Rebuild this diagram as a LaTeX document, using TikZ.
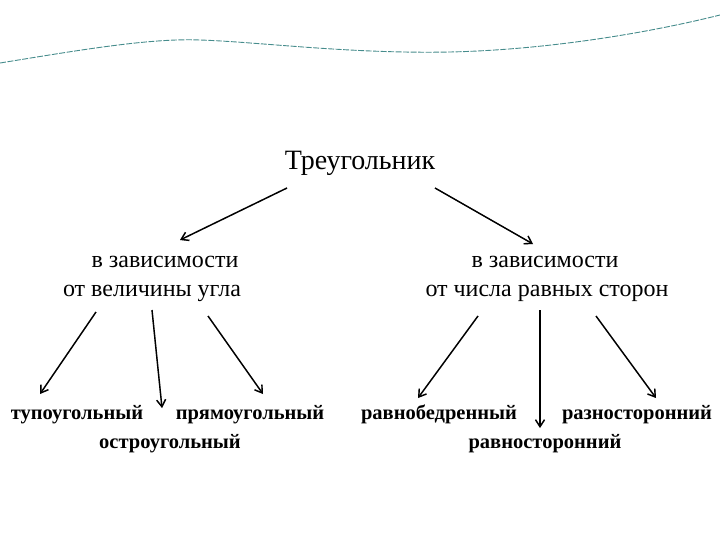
\documentclass[tikz,border=0pt]{standalone}
\usepackage{fontspec}
\setmainfont{Liberation Serif}
\usetikzlibrary{arrows.meta}
\definecolor{wave}{RGB}{70,140,140}
\tikzset{
  plain/.style={font=\fontsize{24}{28}\selectfont},
  kind/.style={font=\bfseries\fontsize{20.5}{24}\selectfont,anchor=base},
  link/.style={line width=1.4pt,-{Straight Barb[length=7pt,width=9pt]}},
  shade/.style={gray!55,line width=1.4pt,-{Straight Barb[length=7pt,width=9pt]},shift={(1.5,1.5)}}
}
\newcommand{\arr}[2]{\draw[shade] (#1) -- (#2); \draw[link] (#1) -- (#2);}
\begin{document}
\begin{tikzpicture}[x=1pt,y=-1pt]
\useasboundingbox (0,0) rectangle (720,540);
% decorative wave
\draw[wave,line width=0.9pt,dash pattern=on 6pt off 1.5pt] (0,63) .. controls (80,50) and (150,38) .. (200,40) .. controls (260,42) and (350,54) .. (450,52) .. controls (540,50) and (640,35) .. (720,15);

% Text Node
\node (top) at (360,163) {\fontsize{28}{32}\selectfont Треугольник};
\node[plain] (la) at (165,262) {в зависимости};
\node[plain] (lb) at (152,293) {от величины угла};
\node[plain] (ra) at (545,262) {в зависимости};
\node[plain] (rb) at (547,293) {от числа равных сторон};
\node[kind] (k1) at (77,419) {тупоугольный};
\node[kind] (k2) at (250,419) {прямоугольный};
\node[kind] (k3) at (170,448) {остроугольный};
\node[kind] (k4) at (439,419) {равнобедренный};
\node[kind] (k5) at (637,419) {разносторонний};
\node[kind] (k6) at (545,448) {равносторонний};

% arrow ends
\coordinate (t1) at (287,188); \coordinate (t1e) at (180,240);
\coordinate (t2) at (435,188); \coordinate (t2e) at (533,244);
\coordinate (a1) at (96,312);  \coordinate (a1e) at (40,394);
\coordinate (a2) at (152,310); \coordinate (a2e) at (162,408);
\coordinate (a3) at (208,316); \coordinate (a3e) at (263,394);
\coordinate (b1) at (478,316); \coordinate (b1e) at (418,398);
\coordinate (b2) at (540,310); \coordinate (b2e) at (540,428);
\coordinate (b3) at (596,316); \coordinate (b3e) at (656,398);

\arr{t1}{t1e} \arr{t2}{t2e}
\arr{a1}{a1e} \arr{a2}{a2e} \arr{a3}{a3e}
\arr{b1}{b1e} \arr{b2}{b2e} \arr{b3}{b3e}
\end{tikzpicture}
\end{document}
